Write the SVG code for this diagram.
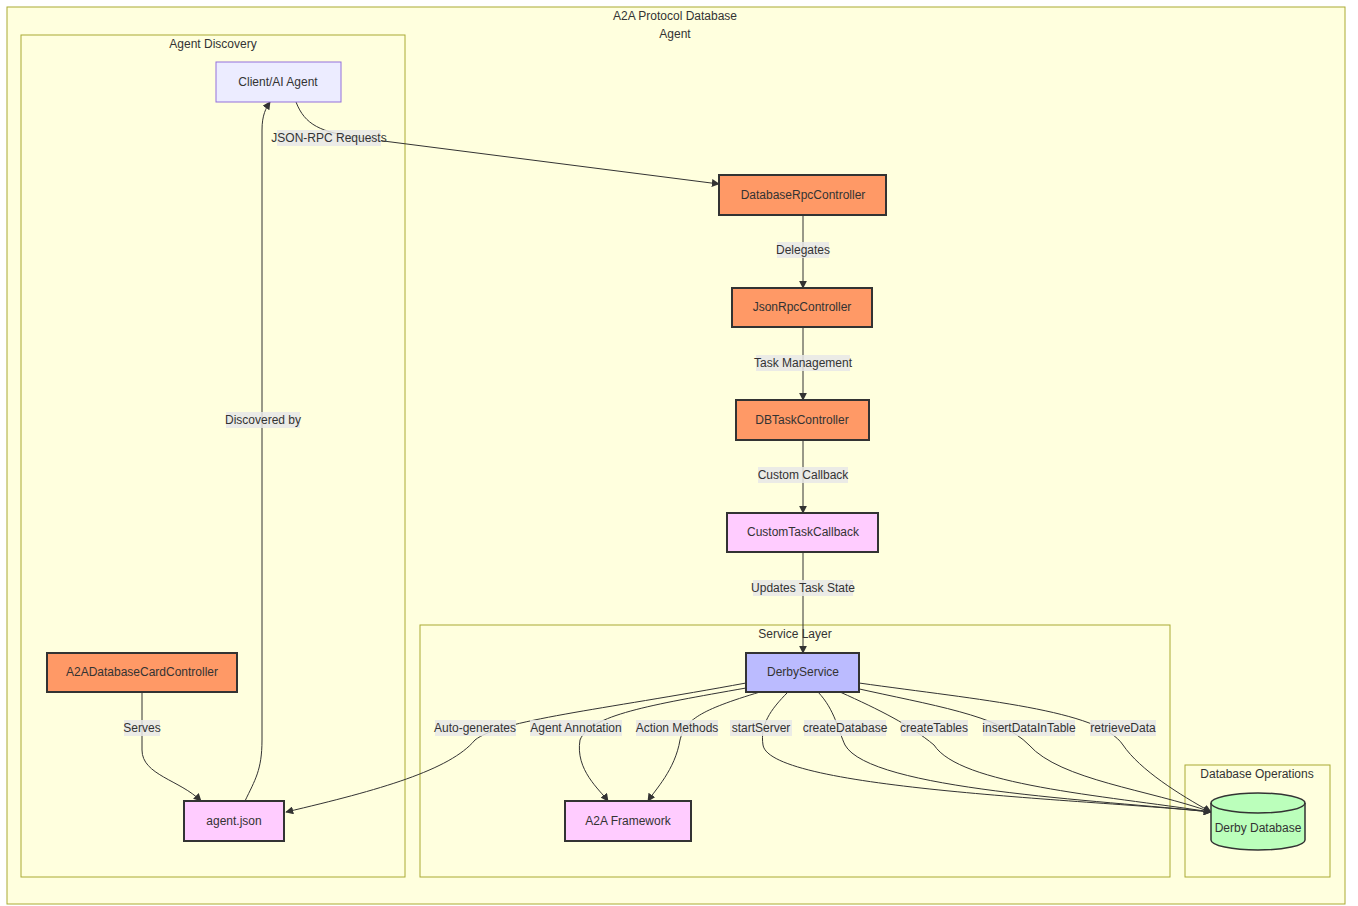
<svg xmlns="http://www.w3.org/2000/svg" width="1358" height="906" viewBox="0 0 1358 906">
<defs>
<marker id="arr" viewBox="0 0 10 10" refX="9" refY="5" markerWidth="8" markerHeight="8" orient="auto"><path d="M0,0 L10,5 L0,10 z" fill="#333"/></marker>
<style>
text{font-family:"Liberation Sans",Arial,sans-serif;font-size:12px;fill:#333;text-anchor:middle;dominant-baseline:central}
.cl{fill:#ffffde;stroke:#aaaa33;stroke-width:1}
.or{fill:#ff9966;stroke:#333;stroke-width:2}
.pk{fill:#ffccff;stroke:#333;stroke-width:2}
.bl{fill:#bbbbff;stroke:#333;stroke-width:2}
.e{fill:none;stroke:#333;stroke-width:1;marker-end:url(#arr)}
.lb{fill:#e8e8e8;opacity:0.85}
</style>
</defs>
<rect width="1358" height="906" fill="#fff"/>
<g id="clusters">
<rect class="cl" x="7" y="7" width="1338" height="897"/>
<text x="675" y="16">A2A Protocol Database</text>
<text x="675" y="34">Agent</text>
<rect class="cl" x="21" y="35" width="384" height="842"/>
<text x="213" y="44">Agent Discovery</text>
<rect class="cl" x="420" y="625" width="750" height="252"/>
<text x="795" y="634">Service Layer</text>
<rect class="cl" x="1185" y="765" width="145" height="112"/>
<text x="1257" y="774">Database Operations</text>
</g>
<g id="edges">
<path class="e" d="M296,102 C305,125 320,132 360,138 L719,184"/>
<path class="e" d="M803,215 L803,288"/>
<path class="e" d="M803,327 L803,400"/>
<path class="e" d="M803,440 L803,513"/>
<path class="e" d="M803,552 L803,653"/>
<path class="e" d="M142,692 L142,750 C142,775 180,780 201,801"/>
<path class="e" d="M245,801 C255,780 262,770 262,740 L262,130 C262,115 266,108 270,102"/>
<path class="e" d="M746,683 C600,710 500,720 475,740 C450,770 380,790 286,812"/>
<path class="e" d="M746,688 C650,705 590,715 580,740 C575,770 600,790 608,801"/>
<path class="e" d="M760,692 C700,710 685,720 680,740 C675,770 655,790 648,801"/>
<path class="e" d="M788,692 C770,710 760,725 763,745 C770,790 1100,800 1211,812"/>
<path class="e" d="M818,692 C835,710 838,730 845,745 C870,790 1100,800 1211,812"/>
<path class="e" d="M840,692 C880,710 910,725 934,745 C960,785 1100,795 1211,812"/>
<path class="e" d="M855,688 C930,705 1000,715 1029,745 C1060,780 1150,790 1211,812"/>
<path class="e" d="M859,683 C980,700 1100,710 1123,745 C1140,770 1180,795 1211,812"/>
<rect class="lb" x="277" y="130" width="104" height="16"/><text x="329" y="138">JSON-RPC Requests</text>
<rect class="lb" x="777" y="242" width="52" height="16"/><text x="803" y="250">Delegates</text>
<rect class="lb" x="756" y="355" width="94" height="16"/><text x="803" y="363">Task Management</text>
<rect class="lb" x="758" y="467" width="90" height="16"/><text x="803" y="475">Custom Callback</text>
<rect class="lb" x="753" y="580" width="100" height="16"/><text x="803" y="588">Updates Task State</text>
<rect class="lb" x="124" y="720" width="36" height="16"/><text x="142" y="728">Serves</text>
<rect class="lb" x="226" y="412" width="74" height="16"/><text x="263" y="420">Discovered by</text>
<rect class="lb" x="435" y="720" width="81" height="16"/><text x="475" y="728">Auto-generates</text>
<rect class="lb" x="530" y="720" width="92" height="16"/><text x="576" y="728">Agent Annotation</text>
<rect class="lb" x="636" y="720" width="82" height="16"/><text x="677" y="728">Action Methods</text>
<rect class="lb" x="730" y="720" width="62" height="16"/><text x="761" y="728">startServer</text>
<rect class="lb" x="804" y="720" width="82" height="16"/><text x="845" y="728">createDatabase</text>
<rect class="lb" x="901" y="720" width="67" height="16"/><text x="934" y="728">createTables</text>
<rect class="lb" x="983" y="720" width="92" height="16"/><text x="1029" y="728">insertDataInTable</text>
<rect class="lb" x="1090" y="720" width="66" height="16"/><text x="1123" y="728">retrieveData</text>
</g>
<g id="client"><rect x="216" y="62" width="125" height="40" fill="#ececff" stroke="#9370db" stroke-width="1"/><text x="278" y="82">Client/AI Agent</text></g>
<g id="rpc"><rect class="or" x="719" y="175" width="167" height="40"/><text x="803" y="195">DatabaseRpcController</text></g>
<g id="json"><rect class="or" x="732" y="288" width="140" height="39"/><text x="802" y="307">JsonRpcController</text></g>
<g id="dbtask"><rect class="or" x="736" y="400" width="133" height="40"/><text x="802" y="420">DBTaskController</text></g>
<g id="callback"><rect class="pk" x="727" y="513" width="151" height="39"/><text x="803" y="532">CustomTaskCallback</text></g>
<g id="derby"><rect class="bl" x="746" y="653" width="113" height="39"/><text x="803" y="672">DerbyService</text></g>
<g id="a2a"><rect class="pk" x="565" y="801" width="126" height="40"/><text x="628" y="821">A2A Framework</text></g>
<g id="card"><rect class="or" x="47" y="653" width="190" height="39"/><text x="142" y="672">A2ADatabaseCardController</text></g>
<g id="agentjson"><rect class="pk" x="184" y="801" width="100" height="40"/><text x="234" y="821">agent.json</text></g>
<g id="db"><path d="M1211,803 A47,10 0 0 1 1305,803 L1305,840 A47,10 0 0 1 1211,840 Z" fill="#bbffbb" stroke="#333" stroke-width="1.5"/><path d="M1211,803 A47,10 0 0 0 1305,803" fill="none" stroke="#333" stroke-width="1.5"/><text x="1258" y="828">Derby Database</text></g>
</svg>
